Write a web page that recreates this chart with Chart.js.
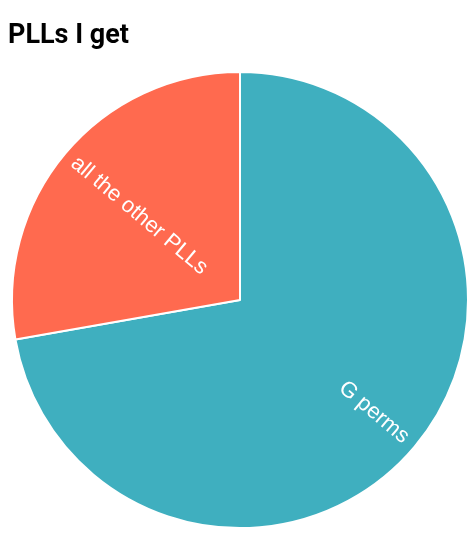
<!DOCTYPE html>
<html>
<head>
<meta charset="utf-8">
<script src="https://cdn.jsdelivr.net/npm/chart.js@4.4.0/dist/chart.umd.min.js"></script>
<style>
  html, body { margin: 0; padding: 0; background: #fff; }
  #wrap { position: relative; width: 474px; height: 553px; }
</style>
</head>
<body>
<div id="wrap"><canvas id="chart"></canvas></div>
<script>
const chartTitle = 'PLLs I get';
const categories = ['G perms', 'all the other PLLs'];
const counts = [13, 5];
const sliceColors = ['#3fafbf', '#ff6a4f'];

// title drawn top-left, like the original
const titlePlugin = {
  id: 'topTitle',
  afterDraw(chart) {
    const ctx = chart.ctx;
    ctx.save();
    ctx.font = 'bold 27px Roboto';
    ctx.fillStyle = '#000';
    ctx.textAlign = 'left';
    ctx.textBaseline = 'alphabetic';
    ctx.fillText(chartTitle, 8, 43);
    ctx.restore();
  }
};

// radial labels inside each slice, pushed to the outer edge
const radialLabels = {
  id: 'radialLabels',
  afterDatasetsDraw(chart) {
    const ctx = chart.ctx;
    const meta = chart.getDatasetMeta(0);
    meta.data.forEach((arc, i) => {
      const p = arc.getProps(['x', 'y', 'startAngle', 'endAngle', 'outerRadius'], true);
      const mid = (p.startAngle + p.endAngle) / 2;
      const pad = 11;
      ctx.save();
      ctx.translate(p.x, p.y);
      ctx.font = '22px "Liberation Sans", Arial, sans-serif';
      ctx.fillStyle = '#fff';
      ctx.textBaseline = 'middle';
      if (Math.cos(mid) >= 0) {
        ctx.rotate(mid);
        ctx.textAlign = 'right';
        ctx.fillText(categories[i], p.outerRadius - pad, 0);
      } else {
        ctx.rotate(mid + Math.PI);
        ctx.textAlign = 'left';
        ctx.fillText(categories[i], -(p.outerRadius - pad), 0);
      }
      ctx.restore();
    });
  }
};

new Chart(document.getElementById('chart'), {
  type: 'pie',
  data: {
    labels: categories,
    datasets: [{
      data: counts,
      backgroundColor: sliceColors,
      borderColor: '#fff',
      borderWidth: 2
    }]
  },
  options: {
    responsive: true,
    maintainAspectRatio: false,
    animation: false,
    layout: { padding: { left: 11, right: 5, top: 71, bottom: 24 } },
    plugins: {
      legend: { display: false },
      tooltip: { enabled: false },
      title: { display: false }
    }
  },
  plugins: [titlePlugin, radialLabels]
});
</script>
</body>
</html>
